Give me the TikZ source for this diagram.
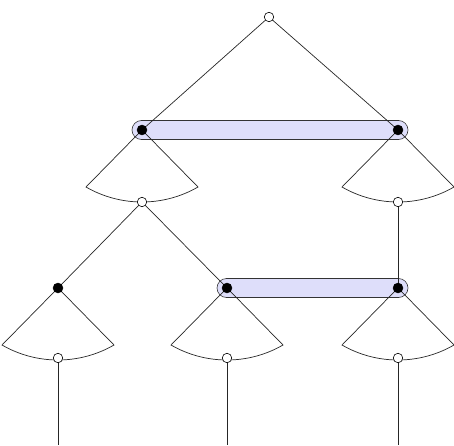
\documentclass[tikz,border=0pt]{standalone}
\usetikzlibrary{backgrounds}
\definecolor{infofill}{RGB}{222,222,250}
\tikzset{
  edge/.style={draw=black!85, line width=0.7pt},
  decnode/.style={circle, fill=black, draw=black, inner sep=0pt, minimum size=10pt},
  chancenode/.style={circle, fill=white, draw=black, line width=0.6pt, inner sep=0pt, minimum size=9.5pt},
  infoset/.style={draw=black!80, line width=0.6pt, fill=infofill, rounded corners=9.5pt}
}
\newcommand\fanat[1]{\draw[edge] (#1.center) -- ++(-56,-57) arc[start angle=240,end angle=300,radius=112pt] -- (#1.center);}
\begin{document}
\begin{tikzpicture}[x=1pt,y=1pt]
\useasboundingbox (0,0) rectangle (454,445);
% nodes
\node[chancenode] (root) at (269,428) {};
\node[decnode] (a1) at (142,315) {};
\node[decnode] (a2) at (398,315) {};
\node[chancenode] (b1) at (142,243) {};
\node[chancenode] (b2) at (398,243) {};
\node[decnode] (c1) at (58,157) {};
\node[decnode] (c2) at (227,157) {};
\node[decnode] (c3) at (398,157) {};
\node[chancenode] (d1) at (58,87) {};
\node[chancenode] (d2) at (227,87) {};
\node[chancenode] (d3) at (398,87) {};
\coordinate (e1) at (58,0);
\coordinate (e2) at (227,0);
\coordinate (e3) at (398,0);
% information sets
\begin{scope}[on background layer]
  \draw[infoset] (132,305.5) rectangle (408,324.5);
  \draw[infoset] (217,147.5) rectangle (408,166.5);
  % edges
  \draw[edge] (root.center) -- (a1.center);
  \draw[edge] (root.center) -- (a2.center);
  \fanat{a1}
  \fanat{a2}
  \draw[edge] (b1.center) -- (c1.center);
  \draw[edge] (b1.center) -- (c2.center);
  \draw[edge] (b2.center) -- (c3.center);
  \fanat{c1}
  \fanat{c2}
  \fanat{c3}
  \draw[edge] (d1.center) -- (e1);
  \draw[edge] (d2.center) -- (e2);
  \draw[edge] (d3.center) -- (e3);
\end{scope}
\end{tikzpicture}
\end{document}
